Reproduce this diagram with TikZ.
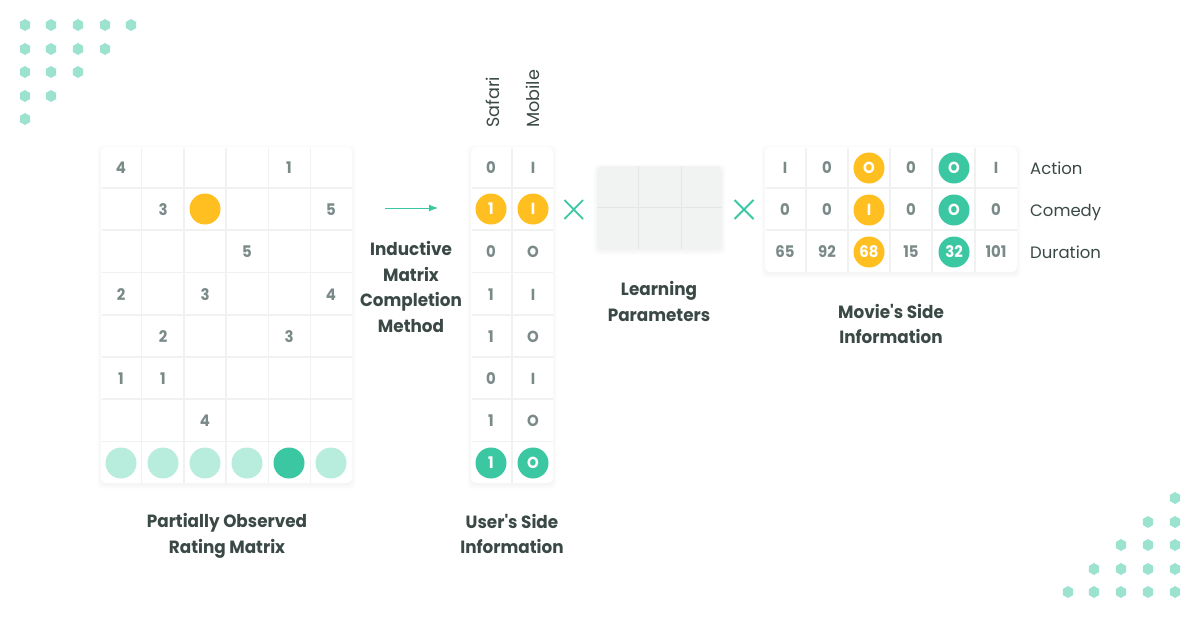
\documentclass[tikz,border=0pt]{standalone}
\usepackage{fontspec}
\setmainfont{Poppins}
\newfontfamily\headfont[FakeStretch=0.95]{Poppins}
\newfontfamily\cellfont[FakeStretch=0.93]{Poppins}
\usetikzlibrary{shapes.geometric,arrows.meta}
\definecolor{hexc}{HTML}{9CE3CF}
\definecolor{palec}{HTML}{B8ECDD}
\definecolor{tealc}{HTML}{3CC7A3}
\definecolor{amberc}{HTML}{FFBF20}
\definecolor{greyc}{HTML}{7A8A88}
\definecolor{darkc}{HTML}{3A4846}
\definecolor{linec}{HTML}{F0F2F1}
\definecolor{paramc}{HTML}{F1F3F2}
\definecolor{paraml}{HTML}{E3E6E5}
\tikzset{
  x=1pt,y=-1pt,
  hexdot/.style={regular polygon,regular polygon sides=6,shape border rotate=30,fill=hexc,draw=none,minimum size=12pt,inner sep=0pt},
  num/.style={text=greyc,font=\cellfont\bfseries\fontsize{16}{16}\selectfont,inner sep=0pt,anchor=center},
  amberdot/.style={circle,fill=amberc,minimum size=31pt,inner sep=0pt,text=white,font=\cellfont\bfseries\fontsize{16}{16}\selectfont},
  tealdot/.style={circle,fill=tealc,minimum size=31pt,inner sep=0pt,text=white,font=\cellfont\bfseries\fontsize{16}{16}\selectfont},
  paledot/.style={circle,fill=palec,minimum size=31pt,inner sep=0pt},
  head/.style={text=darkc,font=\headfont\bfseries\fontsize{17.7}{25.5}\selectfont,align=center,inner sep=0pt},
  side/.style={text=darkc,font=\fontsize{16.5}{20}\selectfont,inner sep=0pt},
  sideup/.style={text=darkc,font=\fontsize{17.6}{20}\selectfont,inner sep=0pt,rotate=90,anchor=base west},
  gridline/.style={draw=linec,line width=1.1pt},
  paramline/.style={draw=paraml,line width=1pt},
  crossmark/.style={draw=tealc,line width=1.8pt},
  flow/.style={draw=tealc,line width=1pt,-{Latex[length=9pt,width=7pt]}},
  panel/.style={rounded corners=5pt,fill=white},
  halo/.style={rounded corners=6pt,fill=black,fill opacity=0.008},
}
\newcommand{\softbox}[4]{%
  \foreach \g in {0,1,2,3,4}{\fill[halo] (#1-\g,#2-\g+2) rectangle (#3+\g,#4+\g+2);}
}
\begin{document}
\begin{tikzpicture}
\useasboundingbox (0,0) rectangle (1200,627);
% hexagon corners
\foreach \x/\y/\n in {25/25/a,51/25/b,78/25/c,105/25/d,131/25/e,25/49/f,51/49/g,78/49/h,105/49/i,25/72/j,51/72/k,78/72/l,25/96/m,51/96/n,25/119/o}
  \node[hexdot] (tl\n) at (\x,\y) {};
\foreach \x/\y/\n in {1175/592/a,1148/592/b,1121/592/c,1094/592/d,1068/592/e,1175/569/f,1148/569/g,1121/569/h,1094/569/i,1175/545/j,1148/545/k,1121/545/l,1175/522/m,1148/522/n,1175/498/o}
  \node[hexdot] (br\n) at (\x,\y) {};
% rating matrix
\softbox{101}{147}{352}{483}
\fill[panel] (101,147) rectangle (352,483);
\foreach \x in {141.7,184,226,268.5,310.5} \draw[gridline] (\x,147.5) -- (\x,482.5);
\foreach \y in {188,230,272.5,315,357,399,441.5} \draw[gridline] (101.5,\y) -- (351.5,\y);
\foreach \x/\y/\t/\n in {121/168/4/a,289/168/1/b,163/210/3/c,331/210/5/d,247/252/5/e,121/295/2/f,205/295/3/g,331/295/4/h,163/337/2/i,289/337/3/j,121/379/1/k,163/379/1/l,205/421/4/m}
  \node[num] (r\n) at (\x,\y) {\t};
\node[amberdot] (rstar) at (205,209) {};
\foreach \x/\n in {121/a,163/b,205/c,247/d,331/e} \node[paledot] (rp\n) at (\x,463) {};
\node[tealdot] (rt) at (289,463) {};
% arrow
\coordinate (arrowstart) at (385,208);
\coordinate (arrowend) at (438,208);
\draw[flow] (arrowstart) -- (arrowend);
% user's side info
\softbox{471}{147}{553}{483}
\fill[panel] (471,147) rectangle (553,483);
\draw[gridline] (512,147.5) -- (512,482.5);
\foreach \y in {188,230,272.5,315,357,399,441.5} \draw[gridline] (471.5,\y) -- (552.5,\y);
\foreach \y/\t/\u/\n in {168/0/I/a,252/0/O/c,295/1/I/d,337/1/O/e,379/0/I/f,421/1/O/g}{
  \node[num] (ua\n) at (491,\y) {\t};
  \node[num] (ub\n) at (533,\y) {\u};
}
\node[amberdot] (uab) at (491,209) {1};
\node[amberdot] (ubb) at (533,209) {I};
\node[tealdot] (uah) at (491,463) {1};
\node[tealdot] (ubh) at (533,463) {O};
\node[sideup] (safari) at (499.5,128) {Safari};
\node[sideup] (mobile) at (539.5,128) {Mobile};
% crosses
\draw[crossmark] (564.5,200) -- (583,219) (583,200) -- (564.5,219);
\draw[crossmark] (734.5,200) -- (753.5,219) (753.5,200) -- (734.5,219);
% parameters
\softbox{597}{166}{722}{249}
\fill[paramc,rounded corners=5pt] (597,166) rectangle (722,249);
\draw[paramline] (638.5,166) -- (638.5,249) (681,166) -- (681,249) (597,207.5) -- (722,207.5);
% movie info
\softbox{765}{147}{1017}{272}
\fill[panel] (765,147) rectangle (1017,272);
\foreach \x in {806,848,890,932,975} \draw[gridline] (\x,147.5) -- (\x,271.5);
\foreach \y in {188,230} \draw[gridline] (765.5,\y) -- (1016.5,\y);
\foreach \x/\y/\t/\n in {785/168/I/a,827/168/0/b,911/168/0/c,996/168/I/d,785/210/0/e,827/210/0/f,911/210/0/g,996/210/0/h,785/252/65/i,827/252/92/j,911/252/15/k,996/252/101/l}
  \node[num] (m\n) at (\x,\y) {\t};
\node[amberdot] (mq) at (869,168) {O};
\node[amberdot] (mr) at (869,210) {I};
\node[amberdot] (ms) at (869,252) {68};
\node[tealdot] (mt) at (954,168) {O};
\node[tealdot] (mu) at (954,210) {O};
\node[tealdot] (mv) at (954,252) {32};
\node[side,anchor=base west] (action) at (1030,174) {Action};
\node[side,anchor=base west] (comedy) at (1030,216) {Comedy};
\node[side,anchor=base west] (duration) at (1030,258) {Duration};
% headings
\node[head] (h1) at (227,536) {Partially Observed\\Rating Matrix};
\node[head] (h2) at (411,287) {Inductive\\Matrix\\Completion\\Method};
\node[head] (h3) at (512,534) {User's Side\\Information};
\node[head] (h4) at (659,301.5) {Learning\\Parameters};
\node[head] (h5) at (891,324) {Movie's Side\\Information};
\end{tikzpicture}
\end{document}
